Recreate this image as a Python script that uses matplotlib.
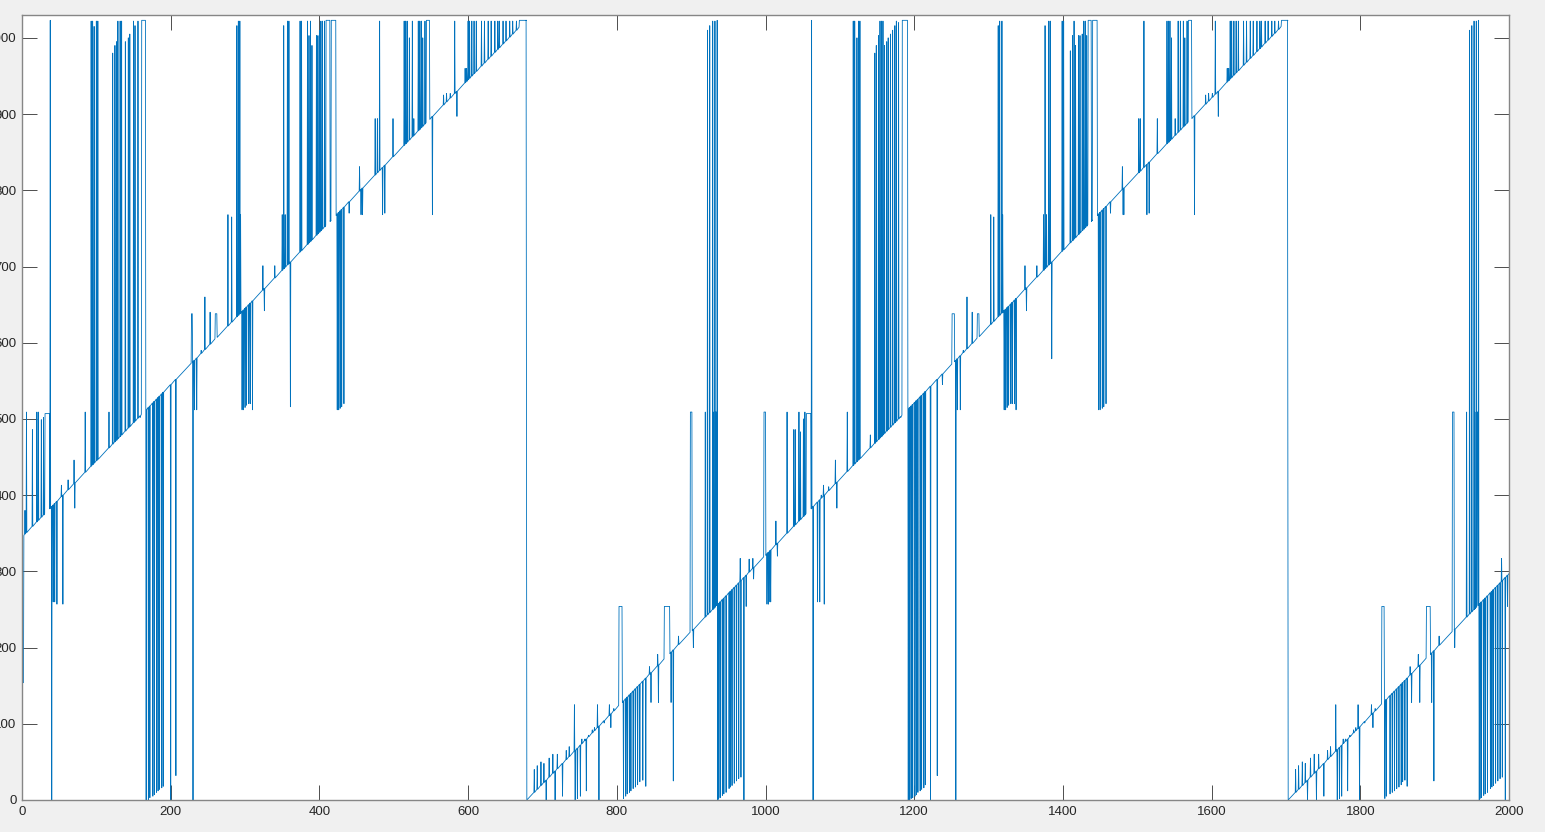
import numpy as np
import matplotlib.pyplot as plt

# baseline ramp (sample index, value)
ramp_x = [0, 678, 679, 1702, 1703, 2000]
ramp_y = [345, 1023, 0, 1023, 0, 297]

# glitches: (first sample, last sample, value)
glitches_1 = [
    (0, 2, 154), (4, 4, 380), (6, 6, 509), (14, 14, 486), (20, 20, 509), (22, 22, 509),
    (26, 26, 499), (29, 29, 502), (31, 37, 507), (38, 38, 1023), (40, 40, 0),
    (42, 42, 260), (44, 44, 260), (47, 47, 257), (53, 53, 413), (55, 55, 257),
    (62, 62, 420), (70, 70, 446), (71, 71, 383), (85, 85, 509),
    (93, 93, 1022), (95, 95, 1022), (97, 97, 1015), (100, 100, 1022), (102, 102, 1022),
    (117, 117, 509), (122, 122, 980), (125, 125, 990), (127, 127, 995), (129, 129, 1022),
    (132, 132, 1022), (134, 134, 1022), (139, 139, 995), (143, 143, 1000), (145, 145, 1005),
    (150, 150, 1022), (152, 152, 1016), (156, 156, 1022), (159, 159, 502), (161, 166, 1023),
    (167, 167, 0), (170, 170, 0), (172, 172, 3), (176, 176, 5), (178, 178, 7),
    (181, 181, 10), (183, 183, 12), (185, 185, 14), (188, 188, 16), (190, 190, 18),
    (200, 200, 0), (207, 207, 32), (228, 229, 638), (230, 230, 0), (232, 232, 512),
    (235, 235, 512), (241, 241, 590), (246, 246, 660), (253, 253, 640), (260, 262, 638),
    (277, 277, 768), (282, 282, 765), (289, 289, 1016), (291, 291, 1022), (293, 293, 1022),
    (294, 294, 768), (296, 296, 512), (298, 298, 512), (300, 300, 515), (302, 302, 518),
    (305, 305, 520), (307, 307, 520), (310, 310, 512), (324, 324, 701), (326, 326, 642),
    (340, 340, 701), (350, 350, 768), (352, 352, 1016), (354, 354, 768), (357, 357, 1022),
    (359, 359, 1022), (361, 361, 516), (374, 374, 1022), (376, 376, 1022), (384, 384, 1022),
    (386, 386, 1003), (388, 388, 1022), (390, 390, 990), (396, 396, 1003), (398, 398, 1003),
    (400, 400, 1010), (402, 402, 1022), (404, 404, 1022), (407, 407, 1022), (409, 414, 1023),
    (415, 415, 761), (416, 422, 1023), (424, 424, 512), (426, 426, 512), (428, 428, 514),
    (430, 430, 516), (433, 433, 520), (440, 440, 770), (454, 454, 831), (456, 456, 768),
    (458, 458, 768), (475, 475, 894), (478, 478, 894), (481, 481, 1022), (485, 485, 768),
    (488, 488, 770), (499, 499, 894), (514, 514, 1022), (516, 516, 1022), (518, 518, 1022),
    (521, 521, 1000), (525, 525, 1022), (527, 527, 894), (533, 533, 1022), (535, 535, 1022),
    (537, 537, 1022), (539, 539, 1000), (542, 542, 1022), (544, 548, 1023), (552, 552, 768),
    (567, 567, 925), (571, 571, 927), (576, 576, 927), (582, 582, 1022), (585, 585, 897),
    (596, 596, 960), (598, 598, 960), (600, 600, 1022), (602, 602, 1022), (605, 605, 1022),
    (608, 608, 1022), (611, 611, 1022), (618, 618, 1022), (622, 622, 1022), (627, 627, 1022),
    (631, 631, 1022), (636, 636, 1022), (640, 640, 1022), (642, 642, 1022), (647, 647, 1022),
    (651, 651, 1022), (656, 656, 1022), (660, 660, 1022), (665, 665, 1022), (669, 678, 1023),
]

glitches_2 = [
    (689, 689, 40), (693, 693, 45), (698, 698, 50), (702, 702, 48), (705, 705, 0),
    (709, 709, 55), (714, 714, 60), (717, 717, 0), (720, 720, 60), (727, 727, 5),
    (732, 732, 65), (736, 736, 70), (743, 743, 125), (744, 744, 0), (747, 747, 2),
    (751, 751, 5), (753, 753, 80), (757, 757, 80), (759, 759, 12), (762, 762, 85),
    (767, 767, 92), (770, 770, 95), (774, 774, 125), (776, 776, 0), (783, 783, 101),
    (790, 790, 125), (792, 792, 95), (796, 796, 120), (803, 807, 254), (809, 809, 2),
    (812, 812, 5), (814, 814, 8), (817, 817, 10), (819, 819, 12), (822, 822, 15),
    (825, 825, 17), (828, 828, 20), (831, 831, 24), (835, 835, 26), (839, 839, 18),
    (844, 844, 175), (846, 846, 128), (855, 855, 191), (856, 856, 128), (864, 871, 254),
    (873, 873, 128), (876, 876, 25), (883, 883, 215), (899, 901, 509), (903, 903, 200),
    (919, 919, 509), (922, 922, 1010), (925, 925, 1016), (929, 929, 1022), (930, 930, 509),
    (932, 932, 1022), (933, 934, 509), (935, 935, 1023), (936, 936, 0), (937, 937, 2),
    (939, 939, 3), (942, 942, 6), (944, 944, 8), (947, 947, 10), (951, 951, 15),
    (953, 953, 17), (955, 955, 19), (958, 958, 22), (961, 961, 25), (964, 964, 28),
    (966, 966, 317), (967, 967, 30), (971, 971, 0), (974, 974, 254), (978, 978, 316),
    (983, 983, 317), (984, 984, 290), (998, 1000, 509), (1002, 1002, 257), (1004, 1004, 257),
    (1006, 1006, 260), (1007, 1007, 260), (1014, 1014, 366), (1016, 1016, 320),
    (1029, 1029, 509), (1038, 1038, 486), (1040, 1040, 486), (1045, 1045, 509),
    (1047, 1047, 483), (1051, 1051, 500), (1053, 1053, 509), (1055, 1061, 507),
    (1062, 1062, 1023), (1064, 1064, 0), (1070, 1070, 260), (1073, 1073, 260),
    (1075, 1075, 400), (1078, 1078, 413), (1079, 1079, 257), (1085, 1085, 411),
    (1094, 1094, 446), (1096, 1096, 383), (1110, 1110, 509), (1118, 1118, 1022),
    (1120, 1120, 1022), (1123, 1123, 1000), (1125, 1125, 1022), (1127, 1127, 1022),
    (1141, 1141, 479), (1147, 1147, 980), (1149, 1149, 990), (1152, 1152, 1003),
    (1154, 1154, 1022), (1156, 1156, 1022), (1158, 1158, 1022), (1160, 1160, 990),
    (1163, 1163, 995), (1165, 1165, 1000), (1168, 1168, 1005), (1171, 1171, 1010),
    (1174, 1174, 1016), (1176, 1176, 1022), (1179, 1179, 1020), (1182, 1182, 502),
    (1184, 1191, 1023), (1192, 1192, 0), (1194, 1194, 0), (1196, 1196, 2), (1198, 1198, 3),
    (1201, 1201, 5), (1203, 1203, 7), (1205, 1205, 10), (1208, 1208, 12), (1210, 1210, 14),
    (1213, 1213, 16), (1215, 1215, 20), (1222, 1222, 0), (1231, 1231, 32), (1238, 1238, 545),
    (1251, 1254, 638), (1256, 1256, 0), (1258, 1258, 512), (1262, 1262, 512),
    (1266, 1266, 590), (1271, 1271, 660), (1278, 1278, 640), (1285, 1287, 638),
    (1303, 1303, 768), (1307, 1307, 765), (1313, 1313, 1016), (1315, 1315, 1022),
    (1318, 1318, 1022), (1319, 1319, 768), (1321, 1321, 512), (1323, 1323, 512),
    (1325, 1325, 515), (1327, 1327, 518), (1330, 1330, 520), (1332, 1332, 520),
    (1335, 1335, 520), (1337, 1337, 512), (1349, 1349, 701), (1351, 1351, 642),
    (1365, 1365, 701), (1374, 1374, 768), (1376, 1376, 1016), (1378, 1378, 768),
    (1381, 1381, 1022), (1383, 1383, 1022), (1385, 1385, 579), (1399, 1399, 1022),
    (1401, 1401, 1022), (1410, 1410, 983), (1413, 1413, 1003), (1415, 1415, 1022),
    (1417, 1417, 990), (1421, 1421, 1003), (1423, 1423, 1003), (1426, 1426, 1005),
    (1428, 1428, 1022), (1430, 1430, 1022), (1432, 1432, 1003), (1434, 1438, 1023),
    (1439, 1439, 761), (1440, 1446, 1023), (1448, 1448, 512), (1450, 1450, 512),
    (1453, 1453, 514), (1455, 1455, 516), (1458, 1458, 520), (1464, 1464, 770),
    (1480, 1480, 831), (1481, 1481, 768), (1482, 1482, 768), (1502, 1502, 894),
    (1504, 1504, 894), (1509, 1509, 1022), (1513, 1513, 768), (1516, 1516, 770),
    (1527, 1527, 894), (1540, 1540, 1022), (1542, 1542, 1022), (1544, 1544, 1022),
    (1546, 1546, 1000), (1551, 1551, 894), (1555, 1555, 1022), (1558, 1558, 1022),
    (1562, 1562, 1022), (1564, 1564, 1000), (1567, 1567, 1022), (1569, 1573, 1023),
    (1577, 1577, 768), (1592, 1592, 925), (1596, 1596, 927), (1601, 1601, 927),
    (1605, 1605, 1022), (1609, 1609, 897), (1621, 1621, 960), (1623, 1623, 960),
    (1625, 1625, 1022), (1627, 1627, 1022), (1630, 1630, 1022), (1633, 1633, 1022),
    (1636, 1636, 1022), (1643, 1643, 1022), (1647, 1647, 1022), (1652, 1652, 1022),
    (1656, 1656, 1022), (1661, 1661, 1022), (1665, 1665, 1022), (1667, 1667, 1022),
    (1672, 1672, 1022), (1676, 1676, 1022), (1681, 1681, 1022), (1685, 1685, 1022),
    (1690, 1690, 1022), (1694, 1702, 1023),
]

glitches_3 = [
    (1713, 1713, 40), (1717, 1717, 45), (1722, 1722, 50), (1726, 1726, 48), (1729, 1729, 0),
    (1733, 1733, 55), (1738, 1738, 60), (1741, 1741, 0), (1744, 1744, 60), (1751, 1751, 5),
    (1756, 1756, 65), (1760, 1760, 70), (1767, 1767, 125), (1769, 1769, 0), (1772, 1772, 2),
    (1775, 1775, 5), (1777, 1777, 80), (1780, 1780, 80), (1783, 1783, 12), (1786, 1786, 85),
    (1791, 1791, 92), (1794, 1794, 95), (1797, 1797, 125), (1799, 1799, 0), (1806, 1806, 101),
    (1815, 1815, 125), (1817, 1817, 95), (1820, 1820, 120), (1829, 1832, 254),
    (1833, 1833, 2), (1835, 1835, 5), (1840, 1840, 8), (1843, 1843, 10), (1846, 1846, 12),
    (1849, 1849, 15), (1852, 1852, 17), (1855, 1855, 20), (1857, 1857, 24), (1860, 1860, 26),
    (1863, 1863, 18), (1867, 1867, 175), (1869, 1869, 128), (1878, 1878, 191),
    (1880, 1880, 128), (1889, 1894, 254), (1896, 1896, 128), (1899, 1899, 25),
    (1906, 1906, 215), (1924, 1926, 509), (1927, 1927, 200), (1943, 1943, 509),
    (1947, 1947, 1010), (1950, 1950, 1016), (1953, 1953, 1022), (1954, 1954, 509),
    (1956, 1956, 1022), (1957, 1958, 509), (1959, 1959, 1023), (1960, 1960, 0),
    (1961, 1961, 2), (1963, 1963, 3), (1966, 1966, 6), (1968, 1968, 8), (1971, 1971, 10),
    (1975, 1975, 15), (1977, 1977, 17), (1979, 1979, 19), (1982, 1982, 22),
    (1985, 1985, 25), (1988, 1988, 28), (1990, 1990, 317), (1991, 1991, 30),
    (1995, 1995, 0), (1998, 1998, 254),
]

x_ticks = np.arange(0, 2001, 200)
y_ticks = np.arange(0, 1001, 100)

# join ramp breakpoints and glitches into one polyline
events = [(x, 0, [(x, y)]) for x, y in zip(ramp_x, ramp_y)]
for g0, g1, v in glitches_1 + glitches_2 + glitches_3:
    f0 = np.interp(g0, ramp_x, ramp_y)
    f1 = np.interp(g1, ramp_x, ramp_y)
    events.append((g0, 1, [(g0 - 0.5, f0), (g0, v), (g1, v), (g1 + 0.5, f1)]))
events.sort(key=lambda e: (e[0], e[1]))
pts = [p for e in events for p in e[2]]
xs = [p[0] for p in pts]
ys = [p[1] for p in pts]

plt.rcParams['font.family'] = ['Liberation Sans', 'DejaVu Sans']
fig = plt.figure(figsize=(15.45, 8.32), dpi=100, facecolor='#f0f0f0')
ax = fig.add_axes([22 / 1545, 32 / 832, 1487 / 1545, 785 / 832])
ax.plot(xs, ys, color='#0072bd', lw=0.6)

ax.set_xlim(0, 2000)
ax.set_ylim(0, 1030)
ax.set_xticks(x_ticks)
ax.set_yticks(y_ticks)
ax.tick_params(direction='in', length=10.8, width=0.7, color='#4d4d4d',
               top=True, right=True, labelsize=9.5, labelcolor='#262626')
ax.tick_params(axis='x', pad=4)
ax.tick_params(axis='y', pad=4)
for s in ax.spines.values():
    s.set_color('#868686')
    s.set_linewidth(1.0)

fig.savefig('out.png', dpi=100, facecolor=fig.get_facecolor())
